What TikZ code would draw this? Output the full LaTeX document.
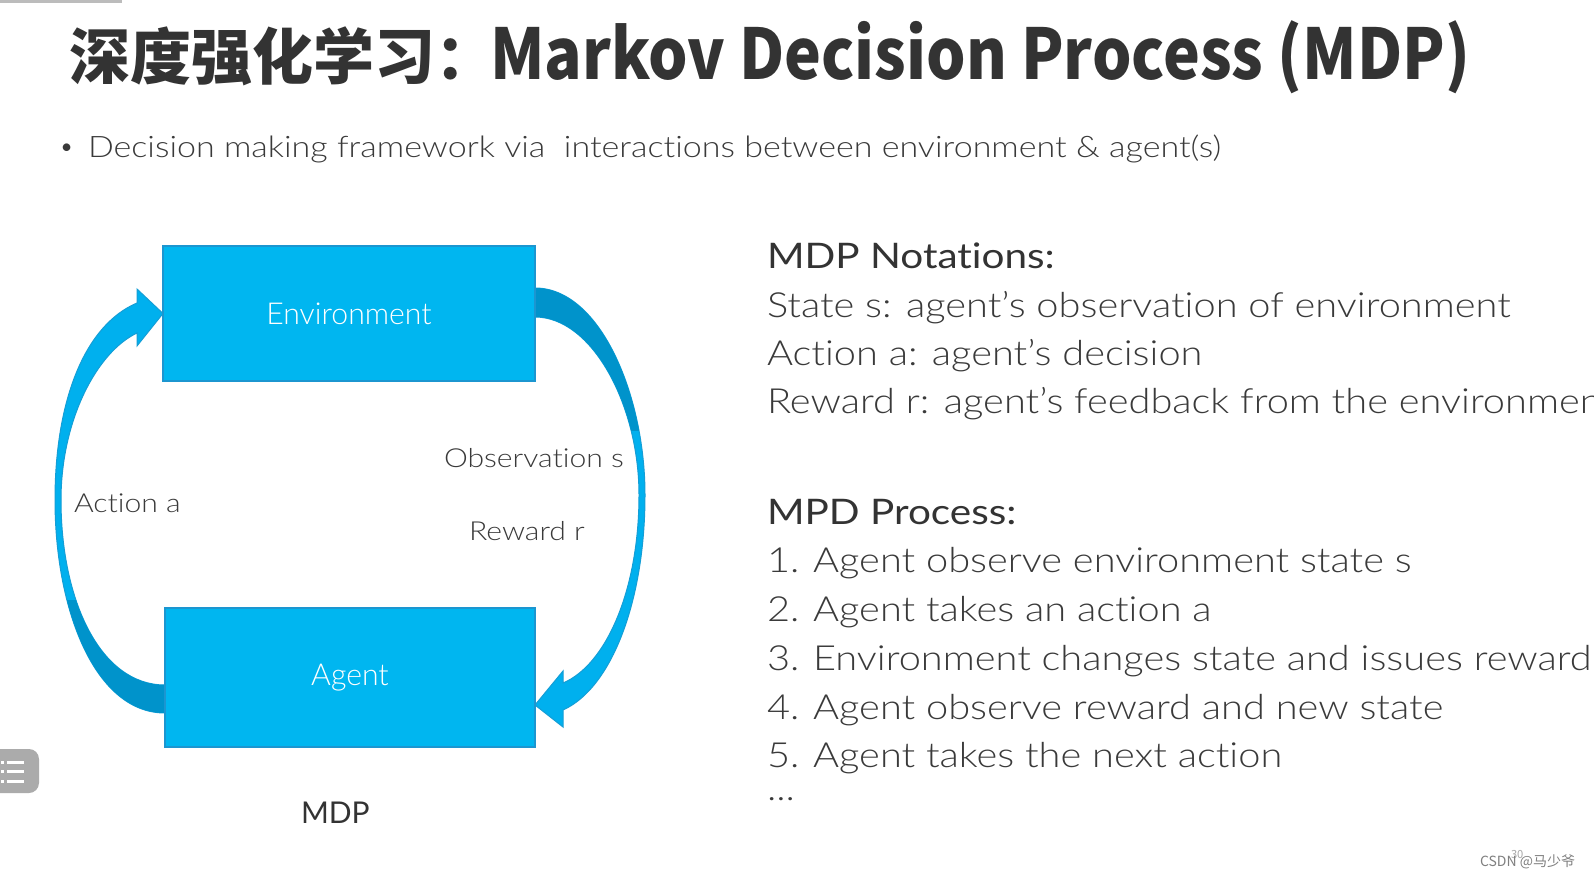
\documentclass[tikz,border=0pt]{standalone}
\usepackage{fontspec}
\usetikzlibrary{calc}
\setmainfont{Lato}[Ligatures=NoCommon]
\newfontfamily\lightf{Lato Light}[Ligatures=NoCommon,FakeStretch=1.15]
\newfontfamily\lightn{Lato Light}[Ligatures=NoCommon]
\newfontfamily\headf{Lato}[Ligatures=NoCommon,FakeStretch=1.15]
\newfontfamily\cjkf{Noto Sans CJK SC}
\newcommand\fsz[1]{\fontsize{#1}{#1}\selectfont}
\definecolor{boxblue}{HTML}{00B6F0}
\definecolor{boxedge}{HTML}{1C96D0}
\definecolor{arrlight}{HTML}{00B0EE}
\definecolor{arrdark}{HTML}{0093CB}
\definecolor{arredge}{HTML}{159ED6}
\definecolor{titlegray}{HTML}{333333}
\definecolor{txtgray}{HTML}{3A3A3A}
\definecolor{lightgray}{HTML}{ABABAB}
\begin{document}
\begin{tikzpicture}[x=0.5pt,y=-0.5pt,
  every node/.style={inner sep=0pt,outer sep=0pt},
  bluebox/.style={fill=boxblue,draw=boxedge,line width=0.6pt,text=white,
    font=\lightn\fsz{15.1}},
  titlecjk/.style={anchor=base west,text=titlegray,font=\cjkf\bfseries\fsz{30.5}},
  titlelat/.style={anchor=base west,text=titlegray,font=\cjkf\bfseries\fsz{35}},
  bullettxt/.style={anchor=base west,text=txtgray,font=\lightf\fsz{14.8}},
  heading/.style={anchor=base west,text=titlegray,font=\headf\fsz{17.6}},
  bodytxt/.style={anchor=base west,text=txtgray,font=\lightf\fsz{17.3}},
  lbl/.style={anchor=base west,text=txtgray,font=\lightf\fsz{13.1}},
  caption/.style={anchor=base west,text=titlegray,font=\fsz{15}},
  arrowband/.style={fill=arrlight,draw=arredge,line width=0.5pt},
  darkband/.style={fill=arrdark}
]
\useasboundingbox (0,0) rectangle (1594,877);
\clip (0,0) rectangle (1594,877);
\fill[white] (0,0) rectangle (1594,877);

% window chrome
\fill[lightgray!80] (0,0) rectangle (122,3);
\fill[lightgray,rounded corners=5pt] (-12,749) rectangle (39,793);
\foreach \yy in {762,771,781}{
  \fill[white] (1,\yy-1.5) rectangle (4,\yy+1.5);
  \fill[white] (7,\yy-1.5) rectangle (24,\yy+1.5);
}

% title
\node[titlecjk] (tcjk) at (69,80) {深度强化学习：};
\node[titlelat] (tlat) at (490,80) {\scalebox{0.888}[1]{Markov Decision Process (MDP)}};

% bullet line
\node[bullettxt,font=\lightn\fsz{13}] (bdot) at (59,156) {•};
\node[bullettxt] (btxt) at (88,158) {Decision making framework via\ \ interactions between environment \& agent(s)};

% boxes
\node[bluebox,minimum width=186pt,minimum height=67.5pt] (env) at (349,313.5) {Environment};
\node[bluebox,minimum width=185pt,minimum height=69.5pt] (agent) at (350,677.5) {Agent};

% left curved arrow (Agent -> Environment)
\def\leftband{($(agent.west)+(0,35.5)$) .. controls (95,713) and (55,610) .. (55,500)
  .. controls (55,400) and (85,325) .. (137,303)
  -- (137,289) -- (env.west) -- (137,346) -- (137,333)
  .. controls (97,352) and (61,420) .. (61,500)
  .. controls (61,600) and (100,685) .. ($(agent.west)+(0,7.5)$) -- cycle}
\path[arrowband] \leftband;
\begin{scope}
  \clip (0,600) rectangle (170,760);
  \path[darkband] \leftband;
\end{scope}

% right curved arrow (Environment -> Agent)
\def\rightband{($(env.east)+(0,-25.5)$) .. controls (600,288) and (645,395) .. (645,495)
  .. controls (645,600) and (612,688) .. (563,710)
  -- (563,727) -- ($(agent.east)+(0,27.5)$) -- (563,671) -- (563,683)
  .. controls (606,665) and (639,590) .. (639,495)
  .. controls (639,405) and (592,317) .. ($(env.east)+(0,3.5)$) -- cycle}
\path[arrowband] \rightband;
\begin{scope}
  \clip (530,270) rectangle (660,430);
  \path[darkband] \rightband;
\end{scope}
% redraw boxes above the arrow ends
\node[bluebox,minimum width=186pt,minimum height=67.5pt] (env2) at (env) {Environment};
\node[bluebox,minimum width=185pt,minimum height=69.5pt] (agent2) at (agent) {Agent};

% diagram labels
\node[lbl] (obs) at (444,467) {Observation s};
\node[lbl] (act) at (74,512) {Action a};
\node[lbl] (rew) at (469,540) {Reward r};
\node[caption] (cap) at (301,823) {MDP};

% right column
\node[heading] (h1) at (767,268) {MDP Notations:};
\node[bodytxt] (n1) at (767,317) {State s: agent’s observation of environment};
\node[bodytxt] (n2) at (767,365) {Action a: agent’s decision};
\node[bodytxt] (n3) at (767,413) {Reward r: agent’s feedback from the environment};

\node[heading] (h2) at (767,524) {MPD Process:};
\node[bodytxt] (p1) at (767,572) {\hbox to 23pt{1.\hfil}Agent observe environment state s};
\node[bodytxt] (p2) at (767,621) {\hbox to 23pt{2.\hfil}Agent takes an action a};
\node[bodytxt] (p3) at (767,670) {\hbox to 23pt{3.\hfil}Environment changes state and issues reward};
\node[bodytxt] (p4) at (767,719) {\hbox to 23pt{4.\hfil}Agent observe reward and new state};
\node[bodytxt] (p5) at (767,767) {\hbox to 23pt{5.\hfil}Agent takes the next action};
\node[bodytxt] (p6) at (767,800) {...};

% watermark
\node[anchor=base west,text=gray!70,font=\cjkf\fsz{5.6}] (pg) at (1511,858) {30};
\node[anchor=base west,text=gray,font=\cjkf\fsz{7}] (wm) at (1480,866) {CSDN @马少爷};
\end{tikzpicture}
\end{document}
